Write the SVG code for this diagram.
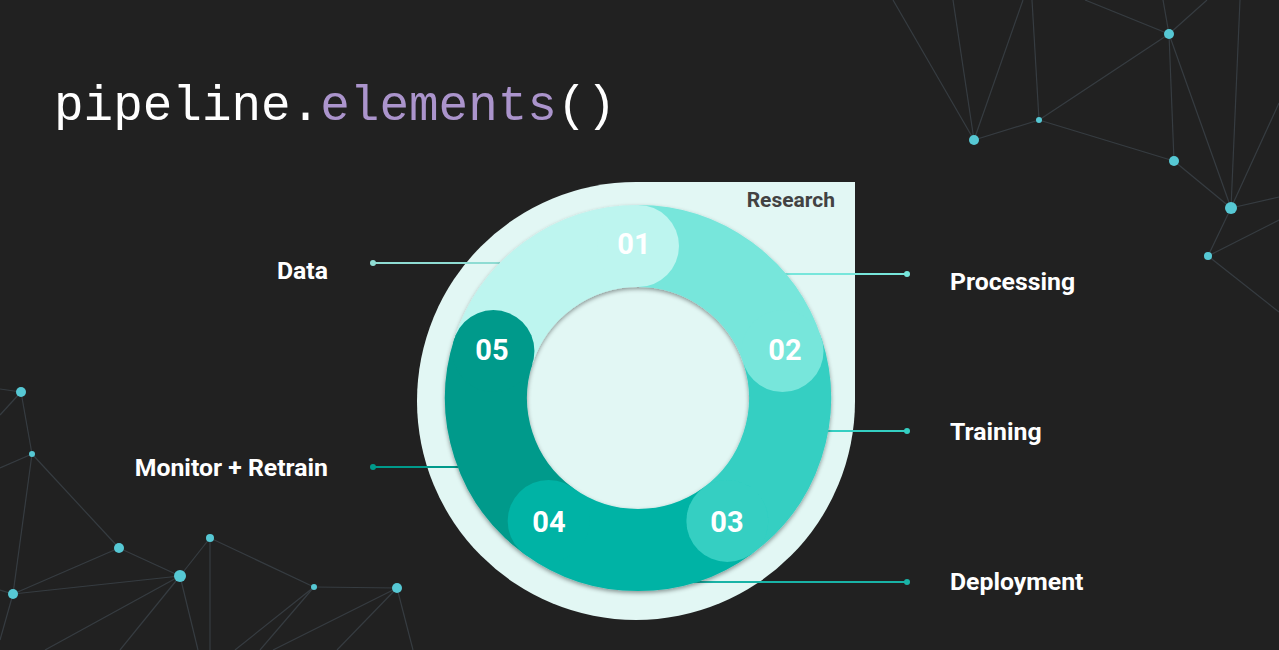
<svg xmlns="http://www.w3.org/2000/svg" width="1279" height="650" viewBox="0 0 1279 650">
<defs>
<style>
.net line{stroke:#363c41;stroke-width:1.2}
.net circle{fill:#56c8d4}
.lbl{font-family:Roboto,"Liberation Sans",sans-serif;font-weight:700;font-size:24.8px;fill:#ffffff}
.num{font-family:Roboto,"Liberation Sans",sans-serif;font-weight:700;font-size:29px;fill:#ffffff;text-anchor:middle}
.seg{fill:none;stroke-width:82}
.conn line{stroke-width:2}
</style>
<filter id="sh" x="-10%" y="-10%" width="120%" height="120%">
<feDropShadow dx="0" dy="2" stdDeviation="2.2" flood-color="#000" flood-opacity="0.4"/>
</filter>
</defs>
<rect width="1279" height="650" fill="#212121"/>
<g class="net" id="net-top-right">
<line x1="974" y1="140" x2="893" y2="0"/>
<line x1="974" y1="140" x2="953" y2="0"/>
<line x1="974" y1="140" x2="1023" y2="0"/>
<line x1="974" y1="140" x2="1039" y2="120"/>
<line x1="1039" y1="120" x2="1032" y2="0"/>
<line x1="1039" y1="120" x2="1169" y2="34"/>
<line x1="1039" y1="120" x2="1174" y2="161"/>
<line x1="1169" y1="34" x2="1163" y2="0"/>
<line x1="1169" y1="34" x2="1207" y2="0"/>
<line x1="1169" y1="34" x2="1085" y2="0"/>
<line x1="1169" y1="34" x2="1174" y2="161"/>
<line x1="1169" y1="34" x2="1231" y2="208"/>
<line x1="1174" y1="161" x2="1231" y2="208"/>
<line x1="1240" y1="0" x2="1231" y2="208"/>
<line x1="1231" y1="208" x2="1279" y2="103"/>
<line x1="1231" y1="208" x2="1279" y2="197"/>
<line x1="1231" y1="208" x2="1208" y2="256"/>
<line x1="1208" y1="256" x2="1279" y2="220"/>
<line x1="1208" y1="256" x2="1279" y2="312"/>
<circle cx="1169" cy="34" r="5"/>
<circle cx="974" cy="140" r="5"/>
<circle cx="1039" cy="120" r="3"/>
<circle cx="1174" cy="161" r="5"/>
<circle cx="1231" cy="208" r="6"/>
<circle cx="1208" cy="256" r="4"/>
</g>
<g class="net" id="net-bottom-left">
<line x1="21" y1="392" x2="0" y2="389"/>
<line x1="21" y1="392" x2="0" y2="415"/>
<line x1="21" y1="392" x2="32" y2="454"/>
<line x1="32" y1="454" x2="0" y2="468"/>
<line x1="32" y1="454" x2="119" y2="548"/>
<line x1="32" y1="454" x2="13" y2="594"/>
<line x1="119" y1="548" x2="13" y2="594"/>
<line x1="119" y1="548" x2="180" y2="576"/>
<line x1="13" y1="594" x2="180" y2="576"/>
<line x1="13" y1="594" x2="0" y2="590"/>
<line x1="13" y1="594" x2="0" y2="640"/>
<line x1="180" y1="576" x2="210" y2="538"/>
<line x1="180" y1="576" x2="45" y2="650"/>
<line x1="180" y1="576" x2="120" y2="650"/>
<line x1="180" y1="576" x2="198" y2="650"/>
<line x1="210" y1="538" x2="210" y2="650"/>
<line x1="210" y1="538" x2="314" y2="587"/>
<line x1="314" y1="587" x2="397" y2="588"/>
<line x1="314" y1="587" x2="235" y2="650"/>
<line x1="314" y1="587" x2="260" y2="650"/>
<line x1="397" y1="588" x2="273" y2="650"/>
<line x1="397" y1="588" x2="337" y2="650"/>
<line x1="397" y1="588" x2="413" y2="650"/>
<circle cx="21" cy="392" r="5"/>
<circle cx="32" cy="454" r="3"/>
<circle cx="119" cy="548" r="5"/>
<circle cx="180" cy="576" r="6"/>
<circle cx="210" cy="538" r="4"/>
<circle cx="13" cy="594" r="5"/>
<circle cx="314" cy="587" r="3"/>
<circle cx="397" cy="588" r="5"/>
</g>
<g id="title">
<text x="54" y="120" font-family="'Liberation Mono','DejaVu Sans Mono',monospace" font-size="49.3" fill="#ffffff">pipeline.<tspan fill="#ab94cc">elements</tspan>()</text>
</g>
<g id="research">
<path d="M636 182 H855 V401 A219 219 0 1 1 636 182 Z" fill="#e2f7f4"/>
<text x="835" y="207" text-anchor="end" font-family="Roboto,'Liberation Sans',sans-serif" font-weight="700" font-size="21" fill="#424242">Research</text>
</g>
<g class="conn" id="connectors">
<line x1="373" y1="263" x2="500" y2="263" stroke="#8fdcd3"/>
<circle cx="373" cy="263" r="3" fill="#8fdcd3"/>
<line x1="785" y1="274" x2="907" y2="274" stroke="#77e6db"/>
<circle cx="907" cy="274" r="3" fill="#77e6db"/>
<line x1="826" y1="431" x2="907" y2="431" stroke="#34cfc2"/>
<circle cx="907" cy="431" r="3" fill="#34cfc2"/>
<line x1="693" y1="582" x2="907" y2="582" stroke="#19b3a6"/>
<circle cx="907" cy="582" r="3" fill="#19b3a6"/>
<line x1="373" y1="467" x2="458" y2="467" stroke="#009a8b"/>
<circle cx="373" cy="467" r="3" fill="#009a8b"/>
</g>
<g id="ring" filter="url(#sh)">
<path class="seg" d="M493.44 351.03 A152 152 0 0 1 638 246" stroke="#bdf5ef"/>
<path class="seg" d="M638 246 A152 152 0 0 1 782.56 351.03" stroke="#77e6db"/>
<path class="seg" d="M782.56 351.03 A152 152 0 0 1 727.35 520.97" stroke="#34cfc2"/>
<path class="seg" d="M727.35 520.97 A152 152 0 0 1 548.65 520.97" stroke="#02b3a5"/>
<path class="seg" d="M548.65 520.97 A152 152 0 0 1 493.44 351.03" stroke="#009a8b"/>
<circle cx="638" cy="246" r="41" fill="#bdf5ef"/>
<circle cx="782.56" cy="351.03" r="41" fill="#77e6db"/>
<circle cx="727.35" cy="520.97" r="41" fill="#34cfc2"/>
<circle cx="548.65" cy="520.97" r="41" fill="#02b3a5"/>
<circle cx="493.44" cy="351.03" r="41" fill="#009a8b"/>
</g>
<g id="step-01"><text class="num" x="634" y="254">01</text><text class="lbl" x="328" y="279" text-anchor="end">Data</text></g>
<g id="step-02"><text class="num" x="785" y="360">02</text><text class="lbl" x="950" y="290">Processing</text></g>
<g id="step-03"><text class="num" x="727" y="532">03</text><text class="lbl" x="950" y="440">Training</text></g>
<g id="step-04"><text class="num" x="549" y="532">04</text><text class="lbl" x="950" y="590">Deployment</text></g>
<g id="step-05"><text class="num" x="492" y="360">05</text><text class="lbl" x="328" y="476" text-anchor="end">Monitor + Retrain</text></g>
</svg>
